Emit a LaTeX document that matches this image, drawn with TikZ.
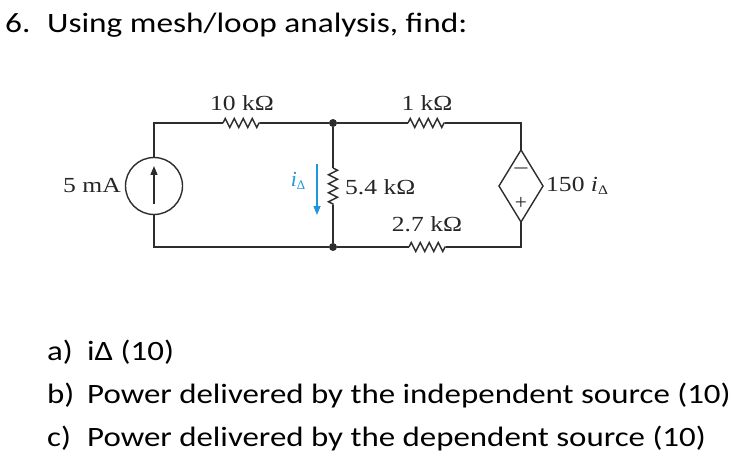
\documentclass[tikz,border=0pt]{standalone}
\usepackage{fontspec}
\setmainfont{Carlito}
\newfontfamily\cktfont{Liberation Serif}
\usetikzlibrary{positioning, arrows.meta, decorations.pathmorphing, shapes.geometric}

\definecolor{wiregray}{RGB}{45,45,45}
\definecolor{idblue}{RGB}{30,150,220}
\newcommand{\wtext}[1]{\scalebox{1.19}[1]{#1}}
\newcommand{\itext}[1]{\scalebox{1.175}[1]{#1}}
\newcommand{\iD}{\textit{i}\raisebox{-3pt}{\fontsize{13}{13}\selectfont Δ}}

\begin{document}
\begin{tikzpicture}[x=1pt,y=-1pt,>={Triangle[length=9pt,width=7pt]}]
\tikzstyle{wire}=[draw=wiregray,line width=1.4pt]
\tikzstyle{res}=[wire,decorate,decoration={zigzag,segment length=9pt,amplitude=4.5pt}]
\tikzstyle{lbl}=[font=\cktfont\fontsize{21.5}{21.5}\selectfont,text=black!85,inner sep=0pt]
\tikzstyle{dot}=[circle,fill=wiregray,minimum size=8pt,inner sep=0pt]
\tikzstyle{txt}=[anchor=base west,inner sep=0pt,font=\fontsize{28}{28}\selectfont]
\useasboundingbox (0,0) rectangle (742,468);

% question text
\node[txt] (num) at (5,33) {\wtext{6.}};
\node[txt] (title) at (47,33) {\wtext{Using mesh/loop analysis, find:}};
\node[txt] (qa) at (47,360) {\itext{a)}};
\node[txt] (qb) at (47,403.3) {\itext{b)}};
\node[txt] (qc) at (47,446.6) {\itext{c)}};
\node[txt] (ta) at (87,360) {\itext{iΔ (10)}};
\node[txt] (tb) at (87,403.3) {\itext{Power delivered by the independent source (10)}};
\node[txt] (tc) at (87,446.6) {\itext{Power delivered by the dependent source (10)}};

% circuit nodes
\node[circle,wire,minimum size=57pt,inner sep=0pt] (isrc) at (154,186) {};
\node[diamond,wire,aspect=0.611,inner sep=13.66pt,outer sep=0pt] (vsrc) at (521,186) {};
\node[dot] (ntop) at (333,123) {};
\node[dot] (nbot) at (333,247) {};
\coordinate (tl) at (154,123);
\coordinate (bl) at (154,247);
\coordinate (tr) at (521,123);
\coordinate (br) at (521,247);
\coordinate (r10a) at (223,123);
\coordinate (r10b) at (260,123);
\coordinate (r1a) at (408,123);
\coordinate (r1b) at (445,123);
\coordinate (r54a) at (333,168);
\coordinate (r54b) at (333,205);
\coordinate (r27a) at (409,247);
\coordinate (r27b) at (446,247);
\coordinate (ia) at (154,204);
\coordinate (ib) at (154,166);
\coordinate (da) at (317,164);
\coordinate (db) at (317,215);

% wires and resistors (north is up on the page)
\draw[wire] (isrc.north) -- (tl) -- (r10a);
\draw[res] (r10a) -- (r10b);
\draw[wire] (r10b) -- (ntop) -- (r1a);
\draw[res] (r1a) -- (r1b);
\draw[wire] (r1b) -- (tr) -- (vsrc.north);
\draw[wire] (isrc.south) -- (bl) -- (nbot) -- (r27a);
\draw[res] (r27a) -- (r27b);
\draw[wire] (r27b) -- (br) -- (vsrc.south);
\draw[wire] (ntop) -- (r54a);
\draw[res] (r54a) -- (r54b);
\draw[wire] (r54b) -- (nbot);
\draw[wire,->] (ia) -- (ib);
\draw[draw=idblue,line width=1.4pt,->] (da) -- (db);

% labels
\node[lbl] (l10) at (242,103) {\wtext{10 kΩ}};
\node[lbl] (l1) at (427,103) {\wtext{1 kΩ}};
\node[lbl,anchor=west] (l54) at (345,187) {\wtext{5.4 kΩ}};
\node[lbl] (l27) at (427,224) {\wtext{2.7 kΩ}};
\node[lbl,anchor=east] (l5) at (121,186) {\wtext{5 mA}};
\node[lbl,anchor=west] (l150) at (546,186) {\wtext{150 \iD}};
\node[lbl,text=idblue] (lid) at (298,181) {\iD};
\node[lbl] (minus) at (521,171) {\wtext{–}};
\node[lbl] (plus) at (521,203) {+};
\end{tikzpicture}
\end{document}
